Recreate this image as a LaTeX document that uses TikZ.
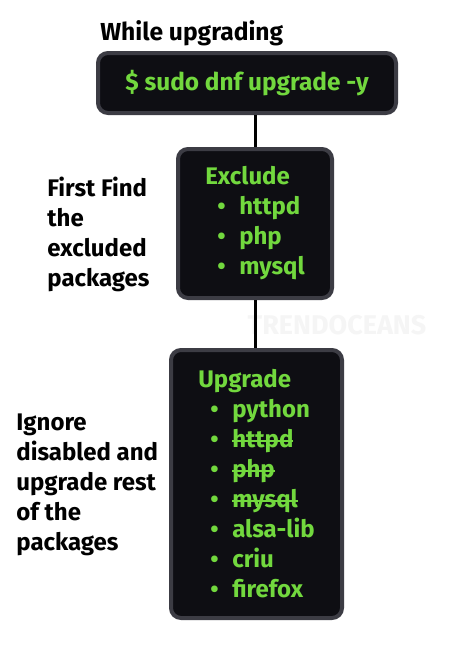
\documentclass[tikz,border=0pt]{standalone}
\usepackage{fontspec}
\setmainfont{Fira Sans}
\usetikzlibrary{positioning}
\definecolor{cTerm}{HTML}{0E0E13}
\definecolor{cEdge}{HTML}{3C3C44}
\definecolor{cGreen}{HTML}{72D83E}
\newsavebox{\strikebox}
\newcommand{\struck}[1]{\sbox{\strikebox}{#1}\rlap{\usebox{\strikebox}}\rule[0.26em]{\wd\strikebox}{1pt}}
\newcommand{\pkgitem}[1]{\makebox[17pt][l]{\hspace{6pt}\textbullet}#1}

\begin{document}
\begin{tikzpicture}[x=0.5pt, y=-0.5pt,
      term/.style = {draw=cEdge, line width=2pt, fill=cTerm, rounded corners=5pt, text=cGreen, font=\bfseries\fontsize{12}{15}\selectfont, align=left},
      note/.style = {font=\bfseries\fontsize{12}{15}\selectfont, align=left, inner sep=0pt, anchor=north west},
      ar/.style = {draw=black, line width=1.5pt} ]
    \useasboundingbox[fill=white] (0,0) rectangle (474,654);
    \node[text=black!4, font=\bfseries\fontsize{13.5}{15}\selectfont] (mark) at (337,325) {TRENDOCEANS};
    \node[font=\bfseries\fontsize{12.3}{15}\selectfont, anchor=west, inner sep=0pt] (title) at (100,33) {While upgrading};
    \node[term, font=\bfseries\fontsize{12.2}{15}\selectfont, minimum width=149pt, minimum height=30pt, align=center] (cmd) at (247,83) {\$ sudo dnf upgrade -y};
    \node[term, minimum width=77pt, minimum height=74.5pt] (excl) at (255,223.5) {Exclude\\ \pkgitem{httpd}\\ \pkgitem{php}\\ \pkgitem{mysql}};
    \node[term, minimum width=85.5pt, minimum height=134pt] (upgr) at (256.5,484) {Upgrade\\ \pkgitem{python}\\ \pkgitem{\struck{httpd}}\\ \pkgitem{\struck{php}}\\ \pkgitem{\struck{mysql}}\\ \pkgitem{alsa-lib}\\ \pkgitem{criu}\\ \pkgitem{firefox}};
    \node[note] (find) at (47,177) {First Find\\the\\excluded\\packages};
    \node[note] (skip) at (16,413) {Ignore\\disabled and\\upgrade rest\\of the\\packages};
    \draw[ar] (cmd.south -| excl.north) -- (excl.north);
    \draw[ar] (excl.south) -- (upgr.north -| excl.south);
  \end{tikzpicture}
\end{document}
